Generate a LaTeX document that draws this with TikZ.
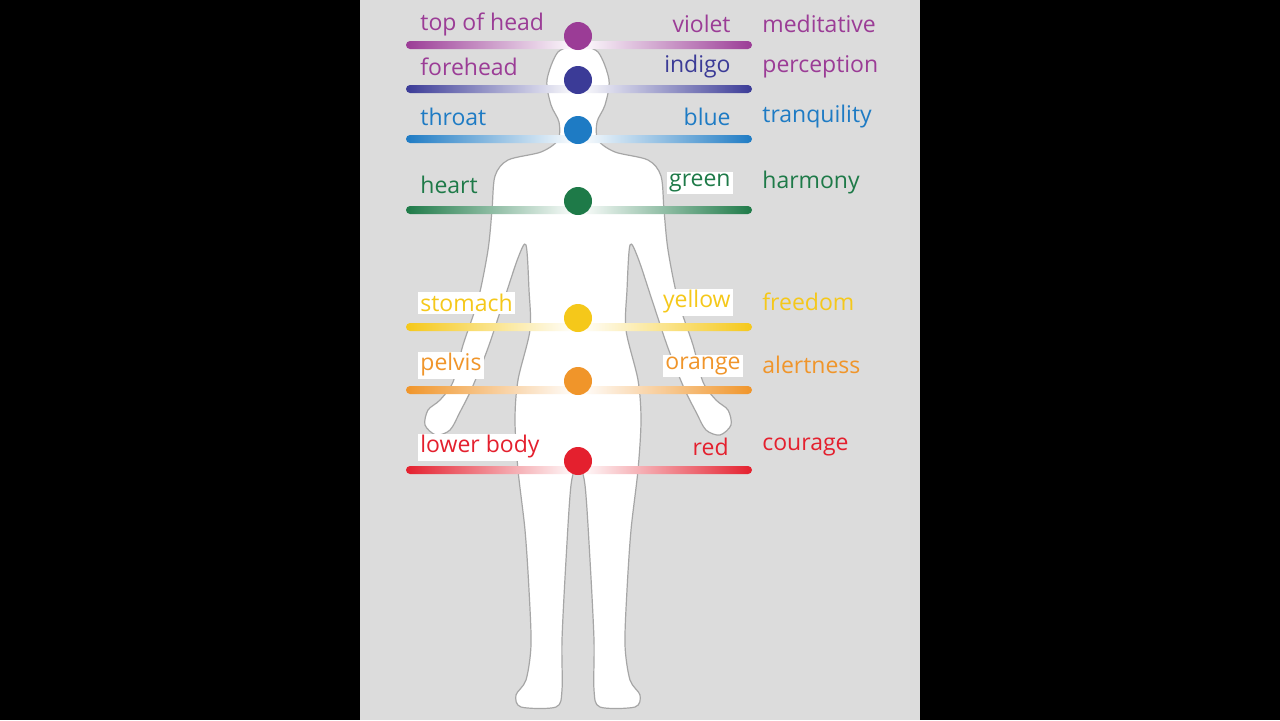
\documentclass[tikz,border=0pt]{standalone}
\usepackage{fontspec}
\setmainfont{Open Sans}
\definecolor{cviolet}{HTML}{9B3C96}
\definecolor{cindigo}{HTML}{3B3B97}
\definecolor{cblue}{HTML}{1E7BC4}
\definecolor{cgreen}{HTML}{1E7A48}
\definecolor{cyellow}{HTML}{F5C81A}
\definecolor{corange}{HTML}{F0952A}
\definecolor{cred}{HTML}{E4202E}
\definecolor{panel}{HTML}{DCDCDC}
\begin{document}
\begin{tikzpicture}[x=0.5pt,y=-0.5pt,
  lab/.style={font=\fontsize{11.5}{14}\selectfont,inner sep=1pt},
  dot/.style={circle,inner sep=0pt,minimum size=14pt}]
\useasboundingbox (0,0) rectangle (1280,720);
\fill[black] (0,0) rectangle (1280,720);
\fill[panel] (360,0) rectangle (920,720);
% body
\def\half{(578,45) (598,52) (609,80) (605,105) (597,122) (598,140) (615,152) (648,160) (661,176) (664,210) (668,250) (678,300) (693,345) (703,382) (716,400) (728,410) (731,425) (720,435) (706,430) (696,412) (684,388) (668,348) (652,300) (638,258) (630,245) (627,290) (626,330) (638,380) (641,420) (638,470) (631,530) (627,590) (625,645) (630,680) (640,695) (635,707) (600,707) (594,690) (594,640) (590,560) (585,485) (578,458)}
\filldraw[white,draw=gray!70,line width=0.6pt] plot[smooth] coordinates {\half};
\begin{scope}[xshift=578*0.5pt*2,xscale=-1]
\filldraw[white,draw=gray!70,line width=0.6pt] plot[smooth] coordinates {\half};
\end{scope}
\fill[white] (576,60) rectangle (580,452);
% bars
\foreach \c/\y in {cviolet/45,cindigo/89,cblue/139,cgreen/210,cyellow/327,corange/390,cred/470}{
  \shade[left color=\c,right color=white,rounded corners=2pt] (406,\y-4) rectangle (578,\y+4);
  \shade[left color=white,right color=\c,rounded corners=2pt] (578,\y-4) rectangle (752,\y+4);
}
% dots
\node[dot,fill=cviolet] (d1) at (578,36) {};
\node[dot,fill=cindigo] (d2) at (578,80) {};
\node[dot,fill=cblue] (d3) at (578,130) {};
\node[dot,fill=cgreen] (d4) at (578,201) {};
\node[dot,fill=cyellow] (d5) at (578,318) {};
\node[dot,fill=corange] (d6) at (578,381) {};
\node[dot,fill=cred] (d7) at (578,461) {};
% left labels
\node[lab,anchor=west,text=cviolet] (l1) at (418,24) {top of head};
\node[lab,anchor=west,text=cviolet] (l2) at (418,67) {forehead};
\node[lab,anchor=west,text=cblue] (l3) at (418,117) {throat};
\node[lab,anchor=west,text=cgreen] (l4) at (418,185) {heart};
\node[lab,anchor=west,text=cyellow,fill=white] (l5) at (418,303) {stomach};
\node[lab,anchor=west,text=corange,fill=white] (l6) at (418,365) {pelvis};
\node[lab,anchor=west,text=cred,fill=white] (l7) at (418,447) {lower body};
% right labels
\node[lab,anchor=east,text=cviolet] (r1) at (733,24) {violet};
\node[lab,anchor=east,text=cindigo] (r2) at (733,67) {indigo};
\node[lab,anchor=east,text=cblue] (r3) at (733,117) {blue};
\node[lab,anchor=east,text=cgreen,fill=white] (r4) at (733,183) {green};
\node[lab,anchor=east,text=cyellow,fill=white] (r5) at (733,302) {yellow};
\node[lab,anchor=east,text=corange,fill=white] (r6) at (743,366) {orange};
\node[lab,anchor=east,text=cred] (r7) at (731,447) {red};
% third column
\node[lab,anchor=west,text=cviolet] (m1) at (760,24) {meditative};
\node[lab,anchor=west,text=cviolet] (m2) at (760,67) {perception};
\node[lab,anchor=west,text=cblue] (m3) at (760,117) {tranquility};
\node[lab,anchor=west,text=cgreen] (m4) at (760,183) {harmony};
\node[lab,anchor=west,text=cyellow] (m5) at (760,302) {freedom};
\node[lab,anchor=west,text=corange] (m6) at (760,365) {alertness};
\node[lab,anchor=west,text=cred] (m7) at (760,447) {courage};
\end{tikzpicture}
\end{document}
